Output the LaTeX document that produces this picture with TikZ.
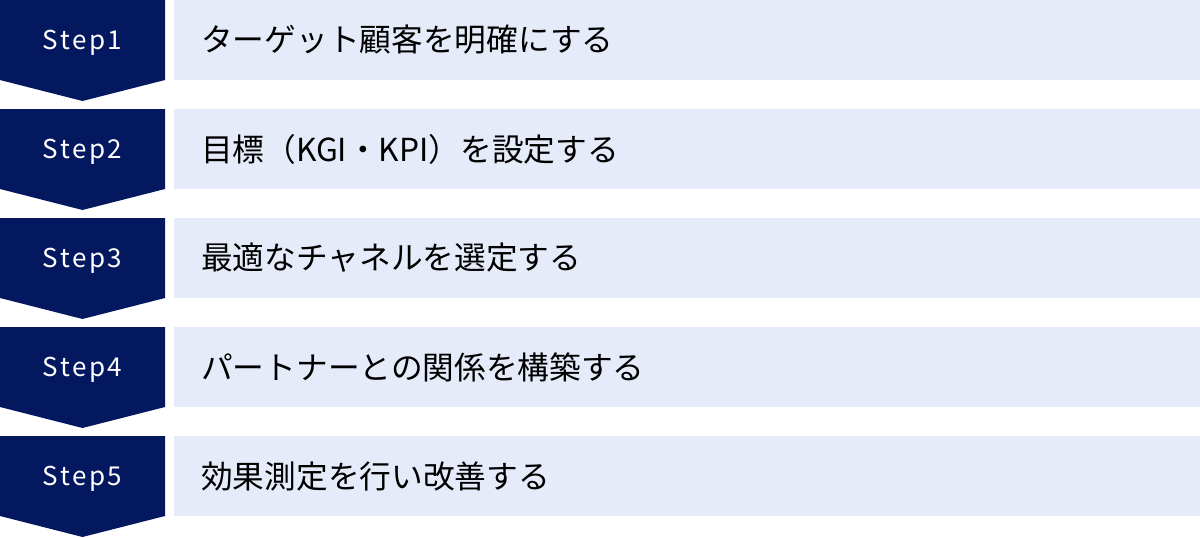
\documentclass[tikz,border=0pt]{standalone}
\usepackage{fontspec}
\setmainfont{Noto Sans CJK JP}
\newfontfamily\stepfont[LetterSpace=10]{Noto Sans CJK JP}
\definecolor{navy}{RGB}{4,24,96}
\definecolor{pale}{RGB}{229,235,248}
\begin{document}
\begin{tikzpicture}[x=1pt,y=-1pt,
  stepshape/.style={fill=navy,draw=none},
  bar/.style={fill=pale,draw=none},
  steplabel/.style={text=white,font=\stepfont\fontsize{26}{30}\selectfont,inner sep=0pt,anchor=base},
  desc/.style={text=black,font=\fontsize{31.7}{36}\selectfont,inner sep=0pt,anchor=west}]
\useasboundingbox (0,0) rectangle (1200,538);
\foreach \i/\t in {1/ターゲット顧客を明確にする,2/目標（KGI・KPI）を設定する,3/最適なチャネルを選定する,4/パートナーとの関係を構築する,5/効果測定を行い改善する}{
  \pgfmathsetmacro{\top}{(\i-1)*109}
  \fill[stepshape] (0,\top) -- (165,\top) -- (165,\top+80) -- (82.5,\top+101) -- (0,\top+80) -- cycle;
  \fill[bar] (174,\top) rectangle (1200,\top+80);
  \node[steplabel] (s\i) at (82.5,\top+49.5) {Step\i};
  \node[desc] (d\i) at (201,\top+40) {\t};
}
\end{tikzpicture}
\end{document}
